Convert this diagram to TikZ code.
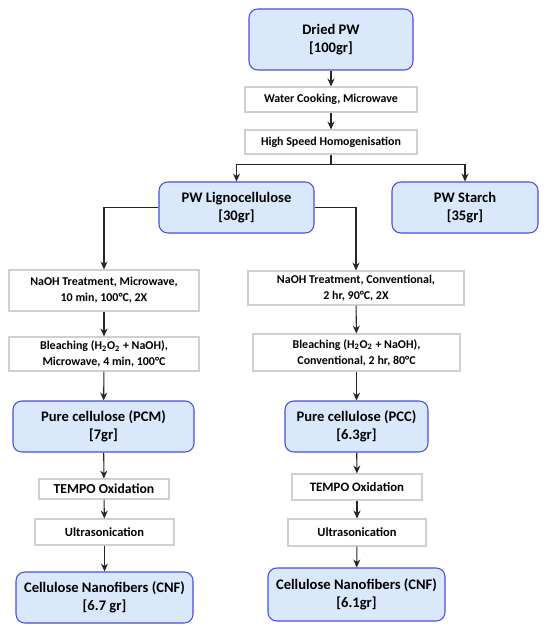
\documentclass[tikz,border=0pt]{standalone}
\usepackage{fontspec}
\setmainfont{Carlito}
\usepackage{xcolor}
\usetikzlibrary{positioning,arrows.meta,calc}

\definecolor{boxblue}{HTML}{DAE8FC}
\definecolor{edgeblue}{HTML}{4B4BE3}
\definecolor{edgegray}{HTML}{D0D0D0}
\definecolor{linedark}{HTML}{262626}

\begin{document}
\begin{tikzpicture}[
    product/.style={rectangle, draw=edgeblue, fill=boxblue, line width=0.6pt, rounded corners=5pt, align=center, inner sep=0pt, font=\fontsize{8.3}{10.2}\selectfont\bfseries},
    process/.style={rectangle, draw=edgegray, fill=white, line width=0.6pt, align=center, inner sep=0pt, font=\fontsize{6.8}{9}\selectfont\bfseries},
    flow/.style={-{Stealth[length=4.5pt,width=4pt]}, line width=0.6pt, linedark}
]
    \useasboundingbox (0,0) rectangle (11,-12.62);

    % top stage
    \node [product, minimum width=3.28cm, minimum height=1.22cm] (dried) at (6.62,-0.79) {Dried PW\\{}[100gr]};
    \node [process, minimum width=3.44cm, minimum height=0.50cm] (cooking) at (6.62,-1.99) {Water Cooking, Microwave};
    \node [process, minimum width=3.44cm, minimum height=0.48cm] (homog) at (6.62,-2.84) {High Speed Homogenisation};

    % fractions
    \node [product, minimum width=3.10cm, minimum height=1.02cm] (ligno) at (4.73,-4.15) {PW Lignocellulose\\{}[30gr]};
    \node [product, minimum width=2.92cm, minimum height=1.02cm] (starch) at (9.30,-4.15) {PW Starch\\{}[35gr]};

    % microwave route
    \node [process, minimum width=3.80cm, minimum height=0.82cm] (naohmw) at (2.08,-5.81) {NaOH Treatment, Microwave,\\10 min, 100°C, 2X};
    \node [process, minimum width=3.80cm, minimum height=0.68cm] (bleachmw) at (2.08,-7.08) {Bleaching (H\textsubscript{2}O\textsubscript{2} + NaOH),\\Microwave, 4 min, 100°C};
    \node [product, minimum width=3.62cm, minimum height=1.02cm] (pcm) at (2.07,-8.53) {Pure cellulose (PCM)\\{}[7gr]};
    \node [process, minimum width=2.60cm, minimum height=0.40cm, font=\fontsize{7.8}{9}\selectfont\bfseries] (tempomw) at (2.08,-9.78) {TEMPO Oxidation};
    \node [process, minimum width=2.78cm, minimum height=0.52cm, font=\fontsize{7.1}{9}\selectfont\bfseries] (sonicmw) at (2.09,-10.64) {Ultrasonication};
    \node [product, minimum width=3.54cm, minimum height=1.02cm] (cnfmw) at (2.09,-11.95) {Cellulose Nanofibers (CNF)\\{}[6.7 gr]};

    % conventional route
    \node [process, minimum width=4.32cm, minimum height=0.68cm] (naohcv) at (7.12,-5.76) {NaOH Treatment, Conventional,\\2 hr, 90°C, 2X};
    \node [process, minimum width=4.14cm, minimum height=0.74cm] (bleachcv) at (7.13,-7.05) {Bleaching (H\textsubscript{2}O\textsubscript{2} + NaOH),\\Conventional, 2 hr, 80°C};
    \node [product, minimum width=2.86cm, minimum height=1.02cm] (pcc) at (7.13,-8.53) {Pure cellulose (PCC)\\{}[6.3gr]};
    \node [process, minimum width=2.60cm, minimum height=0.52cm, font=\fontsize{7.3}{9}\selectfont\bfseries] (tempocv) at (7.14,-9.74) {TEMPO Oxidation};
    \node [process, minimum width=2.76cm, minimum height=0.54cm, font=\fontsize{7.1}{9}\selectfont\bfseries] (soniccv) at (7.14,-10.65) {Ultrasonication};
    \node [product, minimum width=3.54cm, minimum height=1.06cm] (cnfcv) at (7.13,-11.89) {Cellulose Nanofibers (CNF)\\{}[6.1gr]};

    % connections
    \draw [flow] (dried) -- (cooking);
    \draw [flow] (cooking) -- (homog);
    \coordinate (split) at ($(homog.south)+(0,-0.2)$);
    \draw [flow] (homog.south) -- (split) -| (ligno.north);
    \draw [flow] (split) -| (starch.north);
    \draw [flow] (ligno.west) -| (naohmw.north);
    \draw [flow] (ligno.east) -| (naohcv.north);

    \draw [flow] (naohmw) -- (bleachmw);
    \draw [flow] (bleachmw) -- (pcm);
    \draw [flow] (pcm) -- (tempomw);
    \draw [flow] (tempomw) -- (sonicmw);
    \draw [flow] (sonicmw) -- (cnfmw);

    \draw [flow] (naohcv) -- (bleachcv);
    \draw [flow] (bleachcv) -- (pcc);
    \draw [flow] (pcc) -- (tempocv);
    \draw [flow] (tempocv) -- (soniccv);
    \draw [flow] (soniccv) -- (cnfcv);
\end{tikzpicture}
\end{document}
